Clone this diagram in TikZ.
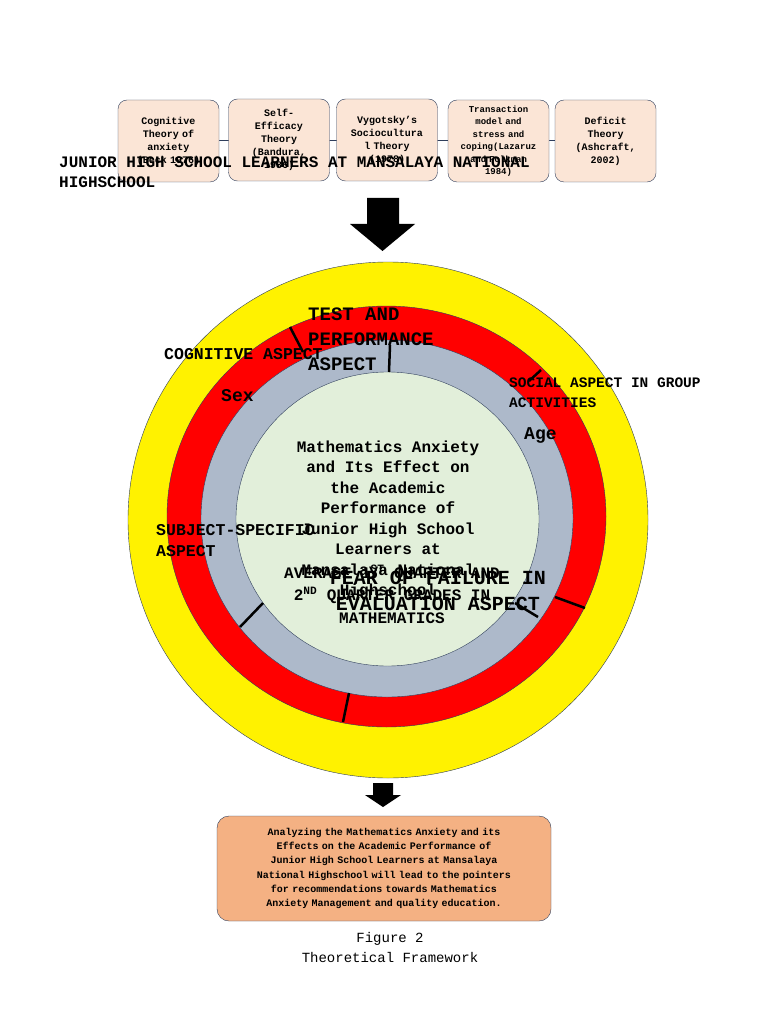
\documentclass[tikz,border=0pt]{standalone}
\usepackage{fontspec}
\setmainfont{Liberation Mono}[HyphenChar=None]
\newcommand{\monosp}{\spaceskip=0.6em\relax\xspaceskip=0.6em\relax}
\definecolor{boxfill}{HTML}{FBE5D6}
\definecolor{edge}{HTML}{2F3E5C}
\definecolor{greyring}{HTML}{ADB9CA}
\definecolor{core}{HTML}{E2EFDA}
\definecolor{outfill}{HTML}{F4B183}
\tikzset{
 theory/.style={draw=edge,fill=boxfill,rounded corners=9pt,minimum width=101pt,minimum height=82pt,text width=80pt,align=center,font=\fontsize{10}{13}\selectfont\bfseries\monosp,inner sep=1pt},
 lbl/.style={inner sep=0pt},
 divider/.style={line width=2.5pt,black},
}
\begin{document}
\begin{tikzpicture}[x=1pt,y=-1pt]
\useasboundingbox (0,0) rectangle (768,1024);
% theory boxes
\draw[edge] (168,140) -- (605,140);
\node[theory] (t1) at (168.5,141) {Cognitive Theory of anxiety (Beck 1976)};
\node[theory] (t2) at (279,140) {Self-\\Efficacy Theory (Bandura,\\1986)};
\node[theory] (t3) at (387,140) {Vygotsky’s Sociocultura\\l Theory (1978)};
\node[theory,font=\fontsize{9}{12.5}\selectfont\bfseries\monosp,text width=84pt] (t4) at (498.5,141) {Transaction model and stress and coping(Lazaruz and Folkman 1984)};
\node[theory] (t5) at (605.5,141) {Deficit Theory (Ashcraft,\\2002)};
\node[lbl,anchor=north west,align=left,font=\fontsize{16}{20}\selectfont\bfseries\monosp] (title) at (59,157) {JUNIOR HIGH SCHOOL LEARNERS AT MANSALAYA NATIONAL\\HIGHSCHOOL};
% big arrow
\coordinate (a1) at (382.5,198);
\fill[black] (367,198) -- (399,198) -- (399,224) -- (415,224) -- (382.5,251) -- (350,224) -- (367,224) -- cycle;
% circles
\fill[yellow,draw=edge] (388,520) ellipse (260 and 258);
\fill[red,draw=edge] (386.5,516.5) ellipse (219.5 and 210.5);
\fill[greyring,draw=edge] (387,518.5) ellipse (186 and 178.5);
\fill[core,draw=edge] (387.5,519) ellipse (151.5 and 147);
% dividers
\draw[divider] (290,327) -- (303,352);
\draw[divider] (541,370) -- (529,381);
\draw[divider] (555,597) -- (585,608);
\draw[divider] (343,722) -- (349,693);
\draw[divider] (390,345) -- (389,372);
\draw[divider] (240,627) -- (263,603);
\draw[divider] (515,603) -- (538,617);
% labels
\node[lbl,anchor=north west,align=left,font=\fontsize{19}{25}\selectfont\bfseries\monosp] (test) at (308,308) {TEST AND\\PERFORMANCE\\ASPECT};
\node[lbl,anchor=west,font=\fontsize{16.5}{20}\selectfont\bfseries\monosp] (cog) at (164,354) {COGNITIVE ASPECT};
\node[lbl,anchor=west,font=\fontsize{18}{20}\selectfont\bfseries\monosp] (sex) at (221,396) {Sex};
\node[lbl,anchor=north west,align=left,font=\fontsize{14.5}{19.5}\selectfont\bfseries\monosp] (soc) at (509,378) {SOCIAL ASPECT IN GROUP\\ACTIVITIES};
\node[lbl,anchor=west,font=\fontsize{18}{20}\selectfont\bfseries\monosp] (age) at (524,435) {Age};
\node[lbl,anchor=north west,align=left,font=\fontsize{16.5}{21}\selectfont\bfseries\monosp] (subj) at (156,524) {SUBJECT-SPECIFIC\\ASPECT};
\node[lbl,align=center,font=\fontsize{16}{20.5}\selectfont\bfseries\monosp] (center) at (388,520) {Mathematics Anxiety\\and Its Effect on\\the Academic\\Performance of\\Junior High School\\Learners at\\Mansalaya National\\Highschool};
\node[lbl,align=center,font=\fontsize{16}{22.5}\selectfont\bfseries\monosp] (avg) at (392,594) {AVERAGE 1\textsuperscript{ST} QUARTER AND\\2\textsuperscript{ND} QUARTER GRADES IN\\MATHEMATICS};
\node[lbl,align=center,font=\fontsize{20}{26}\selectfont\bfseries\monosp] (fear) at (438,591) {FEAR OF FAILURE IN\\EVALUATION ASPECT};
% small arrow
\fill[black] (373,783) -- (393,783) -- (393,795) -- (401,795) -- (383,807) -- (365,795) -- (373,795) -- cycle;
% output box
\node[draw=edge,fill=outfill,rounded corners=12pt,minimum width=334pt,minimum height=105pt,text width=274pt,align=center,font=\fontsize{10}{14.2}\selectfont\bfseries\monosp] (out) at (384,868.5) {Analyzing the Mathematics Anxiety and its Effects on the Academic Performance of Junior High School Learners at Mansalaya National Highschool will lead to the pointers for recommendations towards Mathematics Anxiety Management and quality education.};
\node[align=center,font=\fontsize{14}{20}\selectfont\monosp] (cap) at (390,947) {Figure 2\\Theoretical Framework};
\end{tikzpicture}
\end{document}
